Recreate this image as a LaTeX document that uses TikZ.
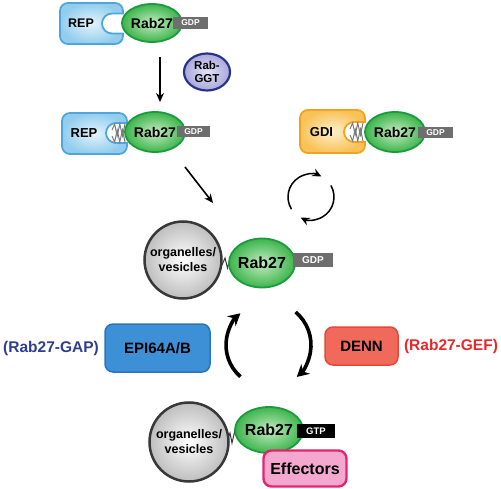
\documentclass[tikz,border=0pt]{standalone}
\usepackage{fontspec}
\setmainfont{Liberation Sans}
\usetikzlibrary{shapes.geometric,arrows.meta,calc}
\definecolor{rabline}{HTML}{1C9A3E}
\definecolor{rabin}{HTML}{C4ECC2}
\definecolor{rabout}{HTML}{3DB54C}
\definecolor{gdpgray}{HTML}{6E6E6E}
\definecolor{orgline}{HTML}{383838}
\definecolor{orgout}{HTML}{BEBEBE}
\definecolor{repline}{HTML}{4EA6DB}
\definecolor{repin}{HTML}{E4F3FB}
\definecolor{repout}{HTML}{92CDEE}
\definecolor{gdiline}{HTML}{F2A21E}
\definecolor{gdiin}{HTML}{FEF0CC}
\definecolor{gdiout}{HTML}{F8C258}
\definecolor{ggtline}{HTML}{2B3389}
\definecolor{ggtin}{HTML}{E2E2F6}
\definecolor{ggtout}{HTML}{A8A8DC}
\definecolor{lipidgray}{HTML}{7A7A7A}
\definecolor{epifill}{HTML}{3D8FD6}
\definecolor{epiline}{HTML}{2A74BE}
\definecolor{dennfill}{HTML}{F0695A}
\definecolor{dennline}{HTML}{E5483A}
\definecolor{efffill}{HTML}{F4A8D0}
\definecolor{effline}{HTML}{E2266E}
\definecolor{gapcol}{HTML}{2F3E8F}
\definecolor{gefcol}{HTML}{E8282B}
\tikzset{
  fsz/.style={font=\bfseries\fontsize{#1}{#1}\selectfont},
  rabnode/.style={ellipse, draw=rabline, line width=1.8pt, inner color=rabin, outer color=rabout, inner xsep=-4pt, inner ysep=0pt},
  gdpnode/.style={rectangle, fill=gdpgray, text=white, inner sep=0pt},
  gtpnode/.style={rectangle, fill=black, text=white, inner sep=0pt},
  orgnode/.style={circle, draw=orgline, line width=2.5pt, inner color=white, outer color=orgout, inner sep=0pt, align=center, font=\bfseries\fontsize{12.5}{15}\selectfont},
  repbox/.style={draw=repline, line width=1.8pt, inner color=repin, outer color=repout},
  gdibox/.style={draw=gdiline, line width=1.8pt, inner color=gdiin, outer color=gdiout},
  lipid/.style={draw=lipidgray, line width=1pt, line join=miter},
  arr/.style={line width=1.6pt, -{Stealth[length=9pt,width=8pt]}},
  bigarr/.style={line width=3.6pt, -{Stealth[length=12pt,width=13pt]}},
  enzbox/.style={rectangle, rounded corners=8pt, inner sep=0pt},
}
% #1 style, #2 x1, #3 x2, #4 ytop, #5 ybot, #6 yc  (image coordinates)
\newcommand\notchbox[6]{%
 \draw[#1] ({#2},{-(#4)-8}) -- ({#2},{-(#5)+8}) arc[start angle=180,end angle=270,radius=8pt]
   -- ({#3-8},{-(#5)}) arc[start angle=270,end angle=360,radius=8pt]
   -- ({#3},{-(#6)-10}) -- ({#3-11},{-(#6)-10}) arc[start angle=270,end angle=90,radius=10pt]
   -- ({#3},{-(#6)+10}) -- ({#3},{-(#4)-8}) arc[start angle=0,end angle=90,radius=8pt]
   -- ({#2+8},{-(#4)}) arc[start angle=90,end angle=180,radius=8pt] -- cycle;}
% lipid anchor in a notch: #1 x0, #2 yc
\newcommand\lipidzz[2]{%
 \draw[lipid] ({#1},{-(#2)+3}) -- ++(2.6,6) -- ++(2.6,-12) -- ++(2.6,12) -- ++(2.6,-12) -- ++(2.6,12);
 \draw[lipid] ({#1},{-(#2)-3}) -- ++(2.6,-6) -- ++(2.6,12) -- ++(2.6,-12) -- ++(2.6,12) -- ++(2.6,-12);}
\begin{document}
\begin{tikzpicture}[x=1pt,y=1pt]
\useasboundingbox (0,0) rectangle (501,-489);

% ---------- top row: REP - Rab27 - GDP
\notchbox{repbox}{60}{123}{3}{44}{23.5}
\node[fsz=12.5] (repA) at (81,-23.5) {REP};
\node[rabnode, minimum width=60pt, minimum height=38pt, fsz=14] (rabA) at (152,-23) {Rab27};
\node[gdpnode, minimum width=35pt, minimum height=12pt, fsz=8.5] (gdpA) at (190.5,-23) {GDP};

% Rab-GGT
\node[ellipse, draw=ggtline, line width=2.2pt, inner color=ggtin, outer color=ggtout, minimum width=46pt, minimum height=37pt, inner sep=0pt, align=center, font=\bfseries\fontsize{11.5}{13}\selectfont] (ggt) at (207,-72) {Rab-\\GGT};

% vertical arrow
\coordinate (v1) at (160,-57);
\coordinate (v2) at (160,-102);
\draw[arr] (v1) -- (v2);

% ---------- second row: REP(lipid) - Rab27 - GDP
\notchbox{repbox}{62}{127}{113}{154}{133}
\lipidzz{112}{133}
\node[fsz=13] (repB) at (84,-133) {REP};
\node[rabnode, minimum width=60pt, minimum height=40pt, fsz=14] (rabB) at (155,-132) {Rab27};
\node[gdpnode, minimum width=33pt, minimum height=11pt, fsz=8.5] (gdpB) at (193.5,-132) {GDP};

% GDI complex
\notchbox{gdibox}{300}{365}{110}{153}{132}
\lipidzz{350}{132}
\node[fsz=13] (gdi) at (321.5,-132) {GDI};
\node[rabnode, minimum width=60pt, minimum height=40pt, fsz=14] (rabC) at (395,-132) {Rab27};
\node[gdpnode, minimum width=35pt, minimum height=11pt, fsz=8.5] (gdpC) at (435.5,-132.5) {GDP};

% diagonal arrow
\coordinate (d1) at (185,-167);
\coordinate (d2) at (213,-203);
\draw[arr] (d1) -- (d2);

% exchange cycle arrows
\coordinate (cyc) at (311,-197);
\coordinate (cA) at ($(cyc)+(212:23pt)$);
\coordinate (cB) at ($(cyc)+(30:23pt)$);
\draw[arr, line width=1.5pt] (cA) arc[start angle=212,end angle=63,radius=23pt];
\draw[arr, line width=1.5pt] (cB) arc[start angle=30,end angle=-117,radius=23pt];

% ---------- organelle row (GDP)
\draw[draw=orgline, line width=1pt, line join=miter] (222,-265) -- (225,-258) -- (227.5,-268) -- (230,-259) -- (233,-263);
\node[orgnode, minimum size=77pt] (orgA) at (183,-260) {organelles/\\vesicles};
\node[rabnode, minimum width=66pt, minimum height=49pt, fsz=16] (rabD) at (262,-263) {Rab27};
\node[gdpnode, minimum width=40pt, minimum height=14pt, fsz=10] (gdpD) at (313,-260) {GDP};

% ---------- GAP / GEF row
\node[enzbox, fill=epifill, draw=epiline, line width=1.5pt, minimum width=105pt, minimum height=48pt, fsz=15] (epi) at (157.5,-348) {EPI64A/B};
\node[fsz=15.5, text=gapcol] (gap) at (51,-348) {(Rab27-GAP)};
\node[enzbox, fill=dennfill, draw=dennline, line width=1.5pt, minimum width=73pt, minimum height=38pt, fsz=15] (denn) at (361.5,-346) {DENN};
\node[fsz=15.5, text=gefcol] (gef) at (451,-346) {(Rab27-GEF)};

\coordinate (big) at (268,-345);
\coordinate (bL) at ($(big)+(229:42pt)$);
\coordinate (bR) at ($(big)+(50:43pt)$);
\draw[bigarr] (bL) arc[start angle=229,end angle=131,radius=42pt];
\draw[bigarr] (bR) arc[start angle=50,end angle=-48,radius=43pt];

% ---------- bottom row (GTP)
\draw[draw=orgline, line width=1pt, line join=miter] (227,-441) -- (230,-433) -- (232,-443) -- (234.5,-432) -- (237,-437);
\node[orgnode, minimum size=79pt] (orgB) at (189,-442) {organelles/\\vesicles};
\node[rabnode, minimum width=68pt, minimum height=46pt, fsz=16] (rabE) at (269,-430) {Rab27};
\node[gtpnode, minimum width=38pt, minimum height=14pt, fsz=9.5] (gtp) at (316,-431) {GTP};
\node[enzbox, fill=efffill, draw=effline, line width=2.4pt, minimum width=83pt, minimum height=36pt, fsz=16] (eff) at (305,-468.5) {Effectors};
\end{tikzpicture}
\end{document}
